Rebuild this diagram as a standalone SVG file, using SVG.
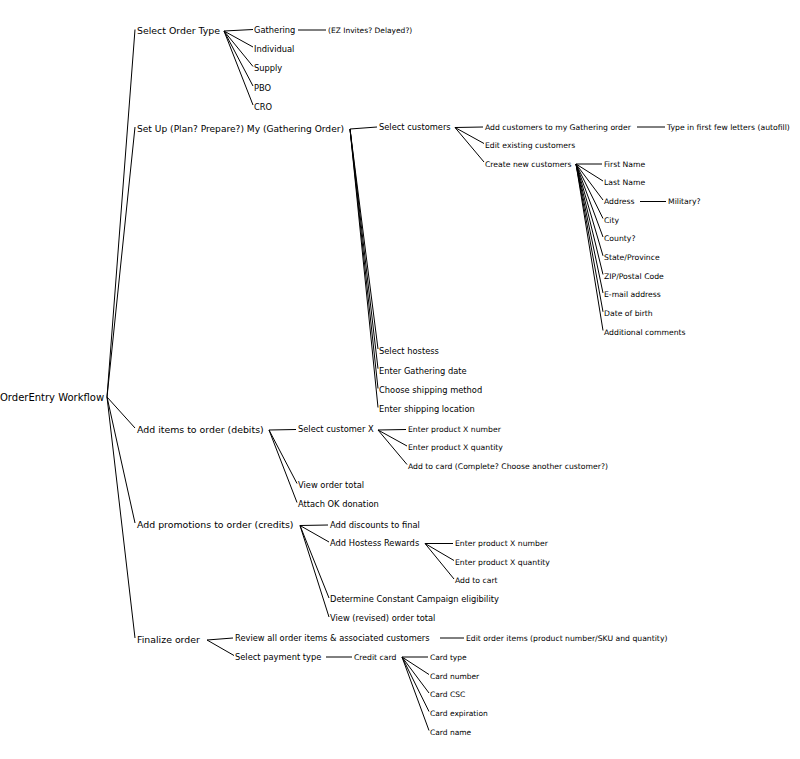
<svg xmlns="http://www.w3.org/2000/svg" width="800" height="759" viewBox="0 0 800 759">
<style>
text{font-family:"DejaVu Sans","Liberation Sans",sans-serif;fill:#000}
.l0{font-size:10px}.l1{font-size:9.4px}.l2{font-size:8.3px}.l3{font-size:7.7px}.l4{font-size:7.5px}
#connectors line{stroke:#000;stroke-width:1;fill:none}
</style>
<rect width="800" height="759" fill="#fff"/>
<g id="connectors">
<line x1="107" y1="397" x2="135" y2="29.5"/>
<line x1="107" y1="397" x2="135" y2="127"/>
<line x1="107" y1="397" x2="135" y2="428"/>
<line x1="107" y1="397" x2="135" y2="523"/>
<line x1="107" y1="397" x2="135" y2="638"/>
<line x1="224" y1="31" x2="253" y2="29.5"/>
<line x1="224" y1="31" x2="253" y2="47"/>
<line x1="224" y1="31" x2="253" y2="66.5"/>
<line x1="224" y1="31" x2="253" y2="86"/>
<line x1="224" y1="31" x2="253" y2="105"/>
<line x1="298" y1="30" x2="326" y2="30"/>
<line x1="350" y1="129" x2="377" y2="127"/>
<line x1="350" y1="129" x2="378" y2="349"/>
<line x1="350" y1="129" x2="378" y2="368.7"/>
<line x1="350" y1="129" x2="378" y2="388.5"/>
<line x1="350" y1="129" x2="378" y2="407.5"/>
<line x1="455" y1="127.5" x2="483" y2="127"/>
<line x1="455" y1="127.5" x2="484" y2="143.5"/>
<line x1="455" y1="127.5" x2="484" y2="162"/>
<line x1="637" y1="127" x2="665" y2="127"/>
<line x1="576" y1="164" x2="602" y2="164"/>
<line x1="576" y1="164" x2="603" y2="181"/>
<line x1="576" y1="164" x2="603" y2="200"/>
<line x1="576" y1="164" x2="603" y2="218.5"/>
<line x1="576" y1="164" x2="603" y2="237"/>
<line x1="576" y1="164" x2="603" y2="255.8"/>
<line x1="576" y1="164" x2="603" y2="274.5"/>
<line x1="576" y1="164" x2="603" y2="293"/>
<line x1="576" y1="164" x2="603" y2="311.8"/>
<line x1="576" y1="164" x2="603" y2="330.5"/>
<line x1="640" y1="201.5" x2="666" y2="201.5"/>
<line x1="269" y1="430" x2="296" y2="429.5"/>
<line x1="269" y1="430" x2="297" y2="483.5"/>
<line x1="269" y1="430" x2="297" y2="502.5"/>
<line x1="378" y1="430" x2="406" y2="429.5"/>
<line x1="378" y1="430" x2="407" y2="446"/>
<line x1="378" y1="430" x2="407" y2="464.5"/>
<line x1="300" y1="525.5" x2="328" y2="525"/>
<line x1="300" y1="525.5" x2="329" y2="542"/>
<line x1="300" y1="525.5" x2="329" y2="598"/>
<line x1="300" y1="525.5" x2="329" y2="617"/>
<line x1="425" y1="543.5" x2="453" y2="543.5"/>
<line x1="425" y1="543.5" x2="454" y2="560.5"/>
<line x1="425" y1="543.5" x2="454" y2="579"/>
<line x1="207" y1="640" x2="233" y2="638"/>
<line x1="207" y1="640" x2="234" y2="655.5"/>
<line x1="440" y1="638" x2="464" y2="638"/>
<line x1="326" y1="657" x2="352" y2="657"/>
<line x1="402" y1="657" x2="428" y2="657"/>
<line x1="402" y1="657" x2="429" y2="674.5"/>
<line x1="402" y1="657" x2="429" y2="693"/>
<line x1="402" y1="657" x2="429" y2="711.5"/>
<line x1="402" y1="657" x2="429" y2="730.5"/>
</g>
<g id="root"><text class="l0" x="0" y="400.5">OrderEntry Workflow</text></g>
<g id="n1"><text class="l1" x="137" y="34.3">Select Order Type</text></g>
<g id="n1-1"><text class="l2" x="254" y="32.9">Gathering</text></g>
<g id="n1-1-1"><text class="l4" x="328" y="32.6">(EZ Invites? Delayed?)</text></g>
<g id="n1-2"><text class="l2" x="254" y="51.9">Individual</text></g>
<g id="n1-3"><text class="l2" x="254" y="71.4">Supply</text></g>
<g id="n1-4"><text class="l2" x="254" y="90.9">PBO</text></g>
<g id="n1-5"><text class="l2" x="254" y="109.9">CRO</text></g>
<g id="n2"><text class="l1" x="137" y="131.8" textLength="207" lengthAdjust="spacingAndGlyphs">Set Up (Plan? Prepare?) My (Gathering Order)</text></g>
<g id="n2-1"><text class="l2" x="379" y="129.9">Select customers</text></g>
<g id="n2-1-1"><text class="l3" x="485" y="129.7">Add customers to my Gathering order</text></g>
<g id="n2-1-1-1"><text class="l3" x="667" y="129.7">Type in first few letters (autofill)</text></g>
<g id="n2-1-2"><text class="l3" x="485" y="148.2">Edit existing customers</text></g>
<g id="n2-1-3"><text class="l3" x="485" y="166.7">Create new customers</text></g>
<g id="n2-1-3-1"><text class="l3" x="604" y="166.7">First Name</text></g>
<g id="n2-1-3-2"><text class="l3" x="604" y="185.4">Last Name</text></g>
<g id="n2-1-3-3"><text class="l3" x="604" y="204.2">Address</text></g>
<g id="n2-1-3-3-1"><text class="l3" x="668" y="204.2">Military?</text></g>
<g id="n2-1-3-4"><text class="l3" x="604" y="222.7">City</text></g>
<g id="n2-1-3-5"><text class="l3" x="604" y="241.4">County?</text></g>
<g id="n2-1-3-6"><text class="l3" x="604" y="260">State/Province</text></g>
<g id="n2-1-3-7"><text class="l3" x="604" y="278.7">ZIP/Postal Code</text></g>
<g id="n2-1-3-8"><text class="l3" x="604" y="297.4">E-mail address</text></g>
<g id="n2-1-3-9"><text class="l3" x="604" y="316">Date of birth</text></g>
<g id="n2-1-3-10"><text class="l3" x="604" y="334.7">Additional comments</text></g>
<g id="n2-2"><text class="l2" x="379" y="353.9">Select hostess</text></g>
<g id="n2-3"><text class="l2" x="379" y="373.6">Enter Gathering date</text></g>
<g id="n2-4"><text class="l2" x="379" y="393.4">Choose shipping method</text></g>
<g id="n2-5"><text class="l2" x="379" y="412.4">Enter shipping location</text></g>
<g id="n3"><text class="l1" x="137" y="433.3">Add items to order (debits)</text></g>
<g id="n3-1"><text class="l2" x="298" y="432.4">Select customer X</text></g>
<g id="n3-1-1"><text class="l3" x="408" y="432.2">Enter product X number</text></g>
<g id="n3-1-2"><text class="l3" x="408" y="450.2">Enter product X quantity</text></g>
<g id="n3-1-3"><text class="l3" x="408" y="468.7">Add to card (Complete? Choose another customer?)</text></g>
<g id="n3-2"><text class="l2" x="298" y="487.9">View order total</text></g>
<g id="n3-3"><text class="l2" x="298" y="506.9">Attach OK donation</text></g>
<g id="n4"><text class="l1" x="137" y="528.3">Add promotions to order (credits)</text></g>
<g id="n4-1"><text class="l2" x="330" y="527.9">Add discounts to final</text></g>
<g id="n4-2"><text class="l2" x="330" y="546.4">Add Hostess Rewards</text></g>
<g id="n4-2-1"><text class="l3" x="455" y="546.2">Enter product X number</text></g>
<g id="n4-2-2"><text class="l3" x="455" y="564.7">Enter product X quantity</text></g>
<g id="n4-2-3"><text class="l3" x="455" y="583.2">Add to cart</text></g>
<g id="n4-3"><text class="l2" x="330" y="602.4">Determine Constant Campaign eligibility</text></g>
<g id="n4-4"><text class="l2" x="330" y="621.4">View (revised) order total</text></g>
<g id="n5"><text class="l1" x="137" y="643.3">Finalize order</text></g>
<g id="n5-1"><text class="l2" x="235" y="640.9">Review all order items &amp; associated customers</text></g>
<g id="n5-1-1"><text class="l3" x="466" y="640.7">Edit order items (product number/SKU and quantity)</text></g>
<g id="n5-2"><text class="l2" x="235" y="659.9">Select payment type</text></g>
<g id="n5-2-1"><text class="l3" x="354" y="659.7">Credit card</text></g>
<g id="n5-2-1-1"><text class="l4" x="430" y="659.6">Card type</text></g>
<g id="n5-2-1-2"><text class="l4" x="430" y="678.6">Card number</text></g>
<g id="n5-2-1-3"><text class="l4" x="430" y="697.1">Card CSC</text></g>
<g id="n5-2-1-4"><text class="l4" x="430" y="715.6">Card expiration</text></g>
<g id="n5-2-1-5"><text class="l4" x="430" y="734.6">Card name</text></g>
</svg>
